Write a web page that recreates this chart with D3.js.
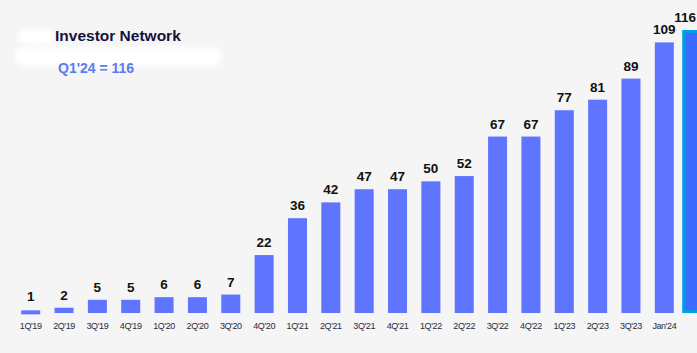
<!DOCTYPE html>
<html><head><meta charset="utf-8">
<script src="https://cdn.jsdelivr.net/npm/d3@7"></script>
<style>html,body{margin:0;padding:0;background:#f5f5f5;overflow:hidden}</style>
</head><body>
<svg id="c" width="697" height="353"></svg>
<script>
const categories = ["1Q'19","2Q'19","3Q'19","4Q'19","1Q'20","2Q'20","3Q'20","4Q'20","1Q'21","2Q'21","3Q'21","4Q'21","1Q'22","2Q'22","3Q'22","4Q'22","1Q'23","2Q'23","3Q'23","Jan'24","Q1'24"];
const tickLabels = ["1Q'19","2Q'19","3Q'19","4Q'19","1Q'20","2Q'20","3Q'20","4Q'20","1Q'21","2Q'21","3Q'21","4Q'21","1Q'22","2Q'22","3Q'22","4Q'22","1Q'23","2Q'23","3Q'23","Jan'24",""];
const values = [1,2,5,5,6,6,7,22,36,42,47,47,50,52,67,67,77,81,89,109,116];
const highlight = [false,false,false,false,false,false,false,false,false,false,false,false,false,false,false,false,false,false,false,false,true];

const svg = d3.select("#c");
svg.append("rect").attr("width",697).attr("height",353).attr("fill","#f5f5f5");

const defs = svg.append("defs");
defs.append("filter").attr("id","blur").attr("x","-20%").attr("y","-50%").attr("width","140%").attr("height","200%")
  .append("feGaussianBlur").attr("stdDeviation",2);

const x = d3.scaleBand().domain(categories).range([14, 14 + 21*33.35]).paddingInner(0.43).paddingOuter(0.215);
const y = d3.scaleLinear().domain([0, 90, 116]).range([313, 76, 30]);
const hlShift = -6; // highlighted bar sits closer to its neighbour
const bx = (i) => x(categories[i]) + (highlight[i] ? hlShift : 0);

// bars
svg.append("g").selectAll("rect").data(values).join("rect")
  .attr("x",(d,i)=>bx(i) + (highlight[i]?1.5:0))
  .attr("y",(d,i)=>y(d) + (highlight[i]?1.5:0))
  .attr("width",(d,i)=>x.bandwidth() - (highlight[i]?3:0))
  .attr("height",(d,i)=>Math.max(4, y(0)-y(d)) - (highlight[i]?3:0))
  .attr("fill",(d,i)=>highlight[i]?"#3d6bff":"#5f74ff")
  .attr("stroke",(d,i)=>highlight[i]?"#00a0e2":"none")
  .attr("stroke-width",3);

// value labels
svg.append("g").selectAll("text").data(values).join("text")
  .attr("x",(d,i)=>highlight[i] ? 696 : bx(i) + x.bandwidth()/2)
  .attr("y",(d,i)=>Math.min(y(d), y(0)-4) - 8)
  .attr("text-anchor",(d,i)=>highlight[i] ? "end" : "middle")
  .attr("font-family","Liberation Sans, Arial, sans-serif")
  .attr("font-weight","bold").attr("font-size",13.5)
  .attr("fill","#111")
  .text(d=>d);

// x axis labels
const xAxis = d3.axisBottom(x).tickSize(0).tickPadding(0).tickFormat((d,i)=>tickLabels[i]);
const gx = svg.append("g").attr("transform","translate(0,323)").call(xAxis);
gx.select(".domain").remove();
gx.selectAll("text").attr("font-family","Liberation Sans, Arial, sans-serif")
  .attr("font-size",9).attr("fill","#2a2a3a").attr("letter-spacing","-0.4px").attr("dy","0.71em");

// redaction blobs
svg.append("rect").attr("x",18).attr("y",29).attr("width",36).attr("height",15).attr("rx",6).attr("fill","#ffffff").attr("filter","url(#blur)");
svg.append("rect").attr("x",15).attr("y",47).attr("width",206).attr("height",19).attr("rx",8).attr("fill","#ffffff").attr("filter","url(#blur)");

// title
svg.append("text").attr("x",55).attr("y",41)
  .attr("font-family","Liberation Sans, Arial, sans-serif").attr("font-weight","bold").attr("font-size",15.5)
  .attr("fill","#15123d").text("Investor Network");
svg.append("text").attr("x",58).attr("y",73)
  .attr("font-family","Liberation Sans, Arial, sans-serif").attr("font-weight","bold").attr("font-size",14)
  .attr("fill","#5a7cf2").text("Q1'24 = 116");
</script>
</body></html>
